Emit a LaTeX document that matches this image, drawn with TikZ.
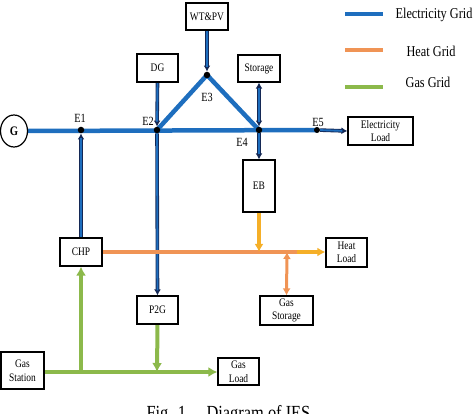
\documentclass[tikz,border=0pt]{standalone}
\usepackage{fontspec}
\setmainfont[FakeStretch=0.82]{Liberation Serif}
\usetikzlibrary{arrows.meta,shapes.geometric}
\definecolor{elec}{RGB}{30,110,190}
\definecolor{navyc}{RGB}{20,40,85}
\definecolor{heat}{RGB}{240,148,85}
\definecolor{goldc}{RGB}{245,175,40}
\definecolor{gasc}{RGB}{140,185,75}
\pgfdeclarelayer{bg}\pgfsetlayers{bg,main}
\begin{document}
\begin{tikzpicture}[x=1pt,y=-1pt,
  box/.style={draw, line width=1.2pt, inner sep=0pt, align=center,
    font=\fontsize{11.5}{13.5}\selectfont},
  dot/.style={circle, fill=black, minimum size=6.5pt, inner sep=0pt},
  lbl/.style={font=\fontsize{12.5}{12.5}\selectfont},
  leg/.style={font=\fontsize{15}{15}\selectfont},
  bus/.style={elec, line width=4.5pt},
  elink/.style={draw=navyc, line width=3.6pt, -{Latex[length=6pt,width=7pt]},
    postaction={draw=elec, line width=1.9pt, -, shorten >=5pt}},
  elinkb/.style={draw=navyc, line width=3.6pt, {Latex[length=6pt,width=7pt]}-{Latex[length=6pt,width=7pt]},
    postaction={draw=elec, line width=1.9pt, -, shorten >=5pt, shorten <=5pt}},
  heatl/.style={heat, line width=4pt},
  heata/.style={heat, line width=3pt, {Latex[length=7pt,width=8pt]}-{Latex[length=7pt,width=8pt]}},
  golda/.style={goldc, line width=3.2pt, -{Latex[length=8pt,width=9pt]}},
  gasa/.style={gasc, line width=4pt, -{Latex[length=9pt,width=10pt]}},
  legline/.style={line width=4.5pt},
]
\useasboundingbox (0,0) rectangle (474,414);

% nodes
\node[draw, ellipse, line width=1.2pt, minimum width=27pt, minimum height=32pt, inner sep=0pt,
  font=\fontsize{13}{13}\selectfont\bfseries] (G) at (14,131) {G};
\node[box, minimum width=42pt, minimum height=27pt] (WT) at (207,16.5) {WT\&PV};
\node[box, minimum width=41pt, minimum height=28pt] (DG) at (157.5,68) {DG};
\node[box, minimum width=42pt, minimum height=27pt] (ST) at (259,68.5) {Storage};
\node[box, minimum width=65pt, minimum height=28pt] (EL) at (380.5,131) {Electricity\\Load};
\node[box, minimum width=32pt, minimum height=52pt] (EB) at (259,186) {EB};
\node[box, minimum width=42pt, minimum height=28pt] (CHP) at (81,252) {CHP};
\node[box, minimum width=41pt, minimum height=29pt] (HL) at (346.5,252.5) {Heat\\Load};
\node[box, minimum width=53pt, minimum height=29pt] (GS) at (286.5,310.5) {Gas\\Storage};
\node[box, minimum width=41pt, minimum height=28pt] (P2G) at (157.5,310) {P2G};
\node[box, minimum width=43pt, minimum height=37pt] (GST) at (22.5,370.5) {Gas\\Station};
\node[box, minimum width=41pt, minimum height=27pt] (GL) at (238.5,371.5) {Gas\\Load};

\node[dot] (E1) at (81,130) {};
\node[dot] (E2) at (157,130) {};
\node[dot] (E3) at (207,75) {};
\node[dot] (E4) at (259,130) {};
\node[dot, minimum size=6pt] (E5) at (317,130) {};

\node[lbl] (lE1) at (80,118) {E1};
\node[lbl] (lE2) at (148,121) {E2};
\node[lbl] (lE3) at (207,97) {E3};
\node[lbl] (lE4) at (242,142) {E4};
\node[lbl] (lE5) at (318,122) {E5};

\coordinate (hA) at (259,252);
\coordinate (hB) at (297,252);
\coordinate (hC) at (287,252);
\coordinate (gA) at (81,372);
\coordinate (gB) at (157,372);

% legend
\coordinate (l1a) at (345,14);  \coordinate (l1b) at (383,14);
\coordinate (l2a) at (345,50);  \coordinate (l2b) at (383,50);
\coordinate (l3a) at (345,87);  \coordinate (l3b) at (383,87);
\node[leg] (t1) at (434,15) {Electricity Grid};
\node[leg] (t2) at (431,51) {Heat Grid};
\node[leg] (t3) at (428,82) {Gas Grid};

% caption
\node[anchor=base west, font=\fontsize{20}{20}\selectfont] (cap1) at (143,419) {Fig. 1};
\node[anchor=base west, font=\fontsize{20}{20}\selectfont] (cap2) at (203,419) {Diagram of IES};

\begin{pgfonlayer}{bg}
  \draw[legline, elec] (l1a) -- (l1b);
  \draw[legline, heat] (l2a) -- (l2b);
  \draw[legline, gasc] (l3a) -- (l3b);

  \draw[bus] (G.east) -- (E5.center);
  \draw[bus, line join=round] (E2.center) -- (E3.center) -- (E4.center);

  \draw[elink] (WT.south) -- (E3);
  \draw[elink] (DG.south) -- (E2);
  \draw[elink] (E2) -- (P2G.north);
  \draw[elink] (CHP.north) -- (E1);
  \draw[elinkb] (ST.south) -- (E4);
  \draw[elink] (E4) -- (EB.north);
  \draw[elink] (E5) -- (EL.west);

  \draw[heatl] (CHP.east) -- (hB);
  \draw[golda] (EB.south) -- (hA);
  \draw[golda] (hB) -- (HL.west |- hB);
  \draw[heata] (hC) -- (GS.north);

  \draw[gasa] (GST.east |- gA) -- (GL.west |- gA);
  \draw[gasa] (gA) -- (CHP.south);
  \draw[gasa] (P2G.south) -- (gB);
\end{pgfonlayer}
\end{tikzpicture}
\end{document}
